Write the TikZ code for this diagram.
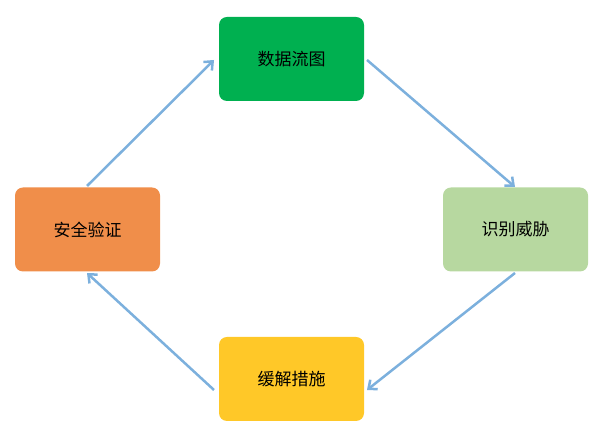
\documentclass[tikz,border=0pt]{standalone}
\usepackage{fontspec}
\setmainfont{Noto Sans CJK SC}
\usetikzlibrary{arrows.meta}
\definecolor{cA}{RGB}{0,176,80}
\definecolor{cB}{RGB}{183,216,160}
\definecolor{cC}{RGB}{255,200,40}
\definecolor{cD}{RGB}{240,142,74}
\definecolor{arr}{RGB}{124,176,221}
\begin{document}
\begin{tikzpicture}[x=1pt,y=1pt,
  box/.style={rounded corners=8pt,minimum width=145pt,minimum height=84pt,inner sep=0pt,font=\fontsize{17}{20}\selectfont},
  link/.style={draw=arr,line width=2.5pt,-{Straight Barb[length=7pt,width=12pt]}}]
\useasboundingbox (0,0) rectangle (600,435);
\node[box,fill=cA] (a) at (291.5,376) {数据流图};
\node[box,fill=cB] (b) at (515.5,205.5) {识别威胁};
\node[box,fill=cC] (c) at (291.5,56) {缓解措施};
\node[box,fill=cD] (d) at (87.5,205.5) {安全验证};
\coordinate (d1) at (87,249);
\coordinate (a1) at (214,375);
\coordinate (a2) at (367,375);
\coordinate (b1) at (515,248);
\coordinate (b2) at (515,162);
\coordinate (c1) at (367,45);
\coordinate (c2) at (214,45);
\coordinate (d2) at (87,162);
\draw[link] (d1) -- (a1);
\draw[link] (a2) -- (b1);
\draw[link] (b2) -- (c1);
\draw[link] (c2) -- (d2);
\end{tikzpicture}
\end{document}
